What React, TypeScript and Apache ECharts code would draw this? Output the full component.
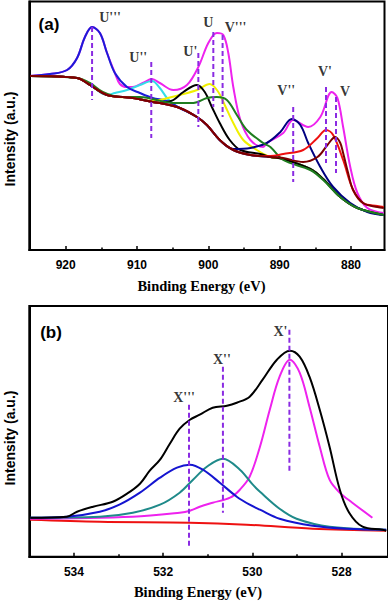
import React, { useEffect, useRef } from "react";
import * as echarts from "echarts";

type Pt = [number, number];

// ---------- Panel (a) ----------
const aTickValues = [880, 890, 900, 910, 920];
const aMinorTickValues = [885, 895, 905, 915];

const aBackground: Pt[] = [
  [925.0, 174], [918.4, 172], [916.6, 165], [914.2, 155], [910.6, 152], [907.8, 148],
  [906.8, 147], [904.0, 142], [901.6, 133], [900.2, 125], [898.4, 110], [896.5, 100],
  [894.1, 95], [891.3, 93], [889.5, 91], [885.7, 81], [883.9, 71], [881.5, 53],
  [879.1, 42], [875.4, 35],
];

const aEnvelope: Pt[] = [
  [925.0, 174], [922.2, 176], [919.8, 180], [918.4, 192], [917.3, 213], [916.3, 223],
  [915.2, 217], [914.2, 197], [913.1, 177], [912.4, 166], [911.4, 163], [910.6, 163],
  [909.2, 167], [907.9, 171], [906.8, 167], [904.9, 160], [903.0, 165], [901.4, 183],
  [900.0, 207], [898.8, 217], [897.9, 215], [897.2, 197], [896.5, 163], [895.5, 130],
  [894.1, 110], [892.3, 103], [891.8, 107], [889.5, 117], [888.1, 130], [886.0, 123],
  [884.3, 133], [882.7, 158], [881.9, 152], [881.1, 123], [880.1, 83], [879.1, 57],
  [877.7, 42], [875.4, 37],
];

const aPeakU3: Pt[] = [
  [925.0, 174], [922.2, 176], [919.8, 180], [918.4, 192], [917.3, 213], [916.3, 223],
  [915.2, 217], [914.2, 197], [913.1, 177], [911.4, 163], [909.6, 157], [907.8, 152],
  [905.8, 149],
];
const aPeakU2: Pt[] = [
  [913.1, 157], [911.4, 160], [909.6, 165], [907.9, 169], [906.8, 162], [905.8, 152],
  [904.9, 146],
];
const aPeakU1: Pt[] = [
  [905.8, 148], [904.9, 150], [903.5, 158], [901.6, 165], [900.5, 158], [899.5, 143],
  [898.4, 127], [897.0, 110], [895.5, 100], [892.7, 96],
];
const aPeakU: Pt[] = [
  [907.8, 149], [906.8, 150], [904.0, 155], [901.6, 160], [899.8, 166], [898.6, 158],
  [897.7, 145], [896.5, 127], [895.1, 110], [893.2, 100],
];
const aPeakV3: Pt[] = [
  [925.0, 174], [918.4, 172], [916.6, 167], [914.8, 158], [912.4, 153], [909.6, 153],
  [904.9, 147], [902.1, 147], [900.2, 152], [898.8, 153], [897.4, 150], [896.0, 135],
  [894.6, 120], [892.3, 107], [891.3, 103], [889.5, 90], [885.7, 80], [883.9, 70],
  [881.5, 53], [879.1, 42], [875.4, 35],
];
const aPeakV2: Pt[] = [
  [896.5, 101], [894.1, 102], [891.8, 107], [889.9, 118], [888.3, 131], [887.1, 125],
  [886.0, 107], [884.3, 83], [882.5, 63], [880.1, 47], [877.7, 38], [875.4, 35],
];
const aPeakV1: Pt[] = [
  [891.3, 94], [889.5, 96], [886.7, 100], [884.7, 112], [883.5, 120], [882.5, 115],
  [881.1, 90], [879.7, 60], [878.3, 47], [876.3, 44], [875.4, 43],
];
const aPeakV: Pt[] = [
  [889.5, 92], [886.7, 88], [884.7, 93], [883.3, 105], [882.2, 113], [881.5, 107],
  [881.1, 97], [880.4, 77], [879.7, 60], [878.3, 47], [876.3, 43], [875.4, 42],
];

const aMarkerNames = ["U'''", "U''", "U'", "U", "V'''", "V''", "V'", "V"];
const aMarkerEnergy = [916.3, 908.0, 901.4, 899.3, 898.0, 888.1, 883.5, 882.1];
const aMarkerTop = [223, 188, 197, 218, 215, 143, 163, 153];
const aMarkerBottom = [150, 112, 123, 143, 133, 68, 87, 77];

// ---------- Panel (b) ----------
const bTickValues = [528, 530, 532, 534];
const bMinorTickValues = [529, 531, 533];

const bEnvelope: Pt[] = [
  [534.98, 39], [534.16, 40], [533.93, 45], [533.57, 50], [533.13, 55], [532.81, 63],
  [532.52, 73], [532.30, 86], [532.07, 97], [531.85, 113], [531.63, 128],
  [531.40, 137], [531.18, 142], [530.89, 149], [530.57, 151], [530.35, 154], [530.06, 160],
  [529.77, 177], [529.45, 197], [529.16, 206], [528.94, 200], [528.72, 180], [528.49, 147],
  [528.27, 110], [528.04, 67], [527.83, 44], [527.53, 30], [527.08, 27], [527.0, 26],
];
const bPeakX3: Pt[] = [
  [534.98, 39], [534.16, 40], [533.42, 45], [532.98, 52], [532.52, 64], [532.07, 79],
  [531.69, 89], [531.40, 92], [531.11, 87], [530.73, 74], [530.35, 60], [530.06, 52],
  [529.83, 47], [529.39, 38], [528.65, 31], [527.89, 28], [527.0, 27],
];
const bPeakX2: Pt[] = [
  [534.98, 39], [533.42, 40], [532.68, 44], [532.07, 52], [531.63, 64], [531.33, 77],
  [531.02, 90], [530.66, 98], [530.28, 87], [529.99, 72], [529.83, 65], [529.39, 48],
  [529.01, 38], [528.27, 30], [527.0, 27],
];
const bPeakX1: Pt[] = [
  [534.98, 38], [532.68, 40], [531.63, 44], [531.40, 46], [531.18, 50], [530.89, 54],
  [530.50, 59], [530.28, 67], [530.06, 80], [529.83, 110], [529.61, 147], [529.39, 180],
  [529.16, 197], [528.94, 184], [528.72, 150], [528.49, 110], [528.27, 77], [528.04, 64],
  [527.76, 54], [527.31, 39],
];
const bBackground: Pt[] = [
  [534.98, 37], [533.42, 35], [531.40, 34], [530.13, 32], [528.65, 28], [527.0, 26],
];

const bMarkerNames = ["X'''", "X''", "X'"];
const bMarkerEnergy = [531.42, 530.66, 529.17];
const bMarkerTop = [152, 190, 227];
const bMarkerBottom = [11, 44, 84];

// ---------- layout constants (pixels) ----------
const aLabelOffset = [[18, -10], [-13, -5], [-8, -2], [-5, -10], [13, -8], [-7, -17], [-1, -16], [9, -6]];
const bLabelOffset = [[-5, -7], [-1, -7], [-9, 2]];

function withBackground(peak: Pt[], bg: Pt[]): Pt[] {
  const xs = peak.map((p) => p[0]);
  const lo = Math.min(...xs);
  const hi = Math.max(...xs);
  const rest = bg.filter((p) => p[0] < lo || p[0] > hi);
  return [...rest, ...peak].sort((a, b) => a[0] - b[0]);
}

const MARK = "#8a2be2";
const SERIF = "'Liberation Serif', 'Times New Roman', serif";
const SANS = "'Liberation Sans', Arial, sans-serif";

function lineSeries(data: Pt[], color: string, axis: number) {
  return {
    type: "line",
    xAxisIndex: axis * 2,
    yAxisIndex: axis,
    data,
    symbol: "none",
    showSymbol: false,
    smooth: 0.35,
    silent: true,
    lineStyle: { color, width: 2 },
  };
}

function markerSeries(names: string[], energy: number[], top: number[], bottom: number[], offs: number[][], axis: number) {
  const out: any[] = [];
  names.forEach((n, i) => {
    out.push({
      type: "line",
      xAxisIndex: axis * 2,
      yAxisIndex: axis,
      data: [[energy[i], top[i]], [energy[i], bottom[i]]],
      symbol: "none",
      silent: true,
      lineStyle: { color: MARK, width: 2, type: [5, 3] },
      z: 5,
    });
  });
  out.push({
    type: "scatter",
    xAxisIndex: axis * 2,
    yAxisIndex: axis,
    symbolSize: 0,
    silent: true,
    z: 6,
    data: names.map((n, i) => ({
      value: [energy[i], top[i]],
      label: {
        show: true,
        position: "inside",
        offset: offs[i],
        formatter: n,
        color: "#000",
        fontFamily: SERIF,
        fontWeight: "bold",
        fontSize: 14,
      },
    })),
  });
  return out;
}

function xAxes(grid: number, min: number, max: number, major: number[], minor: number[]) {
  const base = {
    gridIndex: grid,
    type: "value",
    min,
    max,
    inverse: true,
    position: "bottom",
    splitLine: { show: false },
  };
  return [
    {
      ...base,
      axisLine: { show: true, lineStyle: { color: "#000", width: 2 } },
      axisTick: { show: true, inside: true, length: 4, lineStyle: { color: "#000", width: 1.5 }, customValues: major },
      axisLabel: { show: true, customValues: major, margin: 9, color: "#000", fontFamily: SANS, fontWeight: "bold", fontSize: 12 },
    },
    {
      ...base,
      axisLine: { show: false },
      axisTick: { show: true, inside: true, length: 2.5, lineStyle: { color: "#000", width: 1.5 }, customValues: minor },
      axisLabel: { show: false },
    },
  ];
}

function yAxis(grid: number, max: number) {
  return {
    gridIndex: grid,
    type: "value",
    min: 0,
    max,
    axisLine: { show: true, lineStyle: { color: "#000", width: 2 } },
    axisTick: { show: false },
    axisLabel: { show: false },
    splitLine: { show: false },
  };
}

function text(x: number, y: number, t: string, font: string, size: number, rotation = 0) {
  return {
    type: "text",
    x,
    y,
    rotation,
    style: { text: t, fill: "#000", font: `bold ${size}px ${font}`, align: "center", verticalAlign: "middle" },
  };
}

export default function App() {
  const ref = useRef<HTMLDivElement>(null);
  useEffect(() => {
    if (!ref.current) return;
    const chart = echarts.init(ref.current, undefined, { renderer: "svg" });
    const option: any = {
      animation: false,
      backgroundColor: "#fff",
      grid: [
        { left: 29.3, top: 1.5, width: 355.2, height: 248.5, show: true, borderColor: "#000", borderWidth: 2 },
        { left: 29.3, top: 306, width: 359.7, height: 250.7, show: true, borderColor: "#000", borderWidth: 2 },
      ],
      xAxis: [
        ...xAxes(0, 875.3, 925.1, aTickValues, aMinorTickValues),
        ...xAxes(1, 526.96, 535.0, bTickValues, bMinorTickValues),
      ],
      yAxis: [yAxis(0, 248.5), yAxis(1, 250.7)],
      series: [
        lineSeries(aEnvelope, "#ee22ee", 0),
        lineSeries(withBackground(aPeakU2, aBackground), "#33dde8", 0),
        lineSeries(withBackground(aPeakU3, aBackground), "#1c1cd8", 0),
        lineSeries(withBackground(aPeakU, aBackground), "#f0f000", 0),
        lineSeries(withBackground(aPeakU1, aBackground), "#000000", 0),
        lineSeries(withBackground(aPeakV2, aBackground), "#000080", 0),
        lineSeries(aPeakV3, "#1f7d1f", 0),
        lineSeries(withBackground(aPeakV1, aBackground), "#ee1111", 0),
        lineSeries(withBackground(aPeakV, aBackground), "#7a0000", 0),
        ...markerSeries(aMarkerNames, aMarkerEnergy, aMarkerTop, aMarkerBottom, aLabelOffset, 0),
        lineSeries(bBackground, "#ee1111", 1),
        lineSeries(bPeakX1, "#ee22ee", 1),
        lineSeries(bPeakX2, "#1f8a8a", 1),
        lineSeries(bPeakX3, "#1515d0", 1),
        lineSeries(bEnvelope, "#000000", 1),
        ...markerSeries(bMarkerNames, bMarkerEnergy, bMarkerTop, bMarkerBottom, bLabelOffset, 1),
      ],
      graphic: [
        text(49, 24, "(a)", SANS, 17),
        text(51, 332, "(b)", SANS, 17),
        text(201.5, 285.5, "Binding Energy (eV)", SERIF, 14.5),
        text(198, 591.5, "Binding Energy (eV)", SERIF, 14.5),
        text(9.5, 139, "Intensity (a.u.)", SANS, 14, Math.PI / 2),
        text(10, 438, "Intensity (a.u.)", SANS, 14, Math.PI / 2),
      ],
    };
    chart.setOption(option);
    return () => chart.dispose();
  }, []);
  return (
    <div
      ref={ref}
      style={{ position: "fixed", left: 0, top: 0, width: 388, height: 601, background: "#fff" }}
    />
  );
}
